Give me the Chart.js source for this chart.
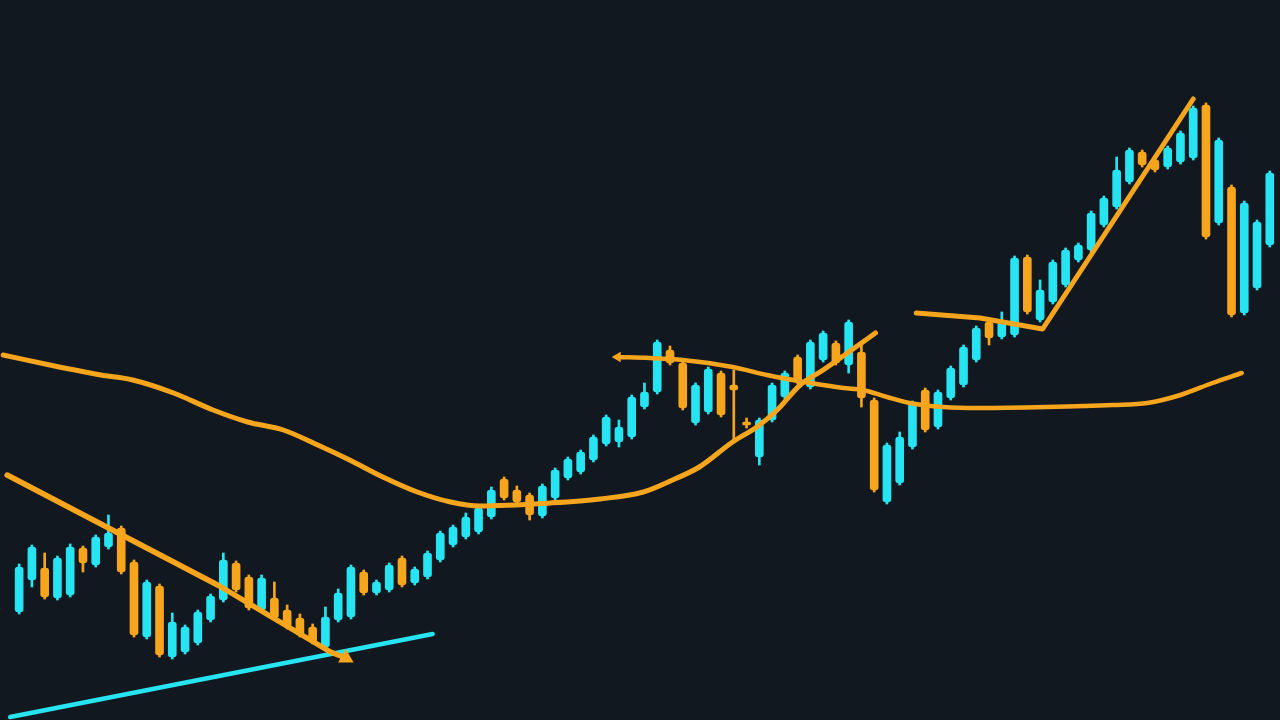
<!DOCTYPE html>
<html>
<head>
<meta charset="utf-8">
<script src="https://cdn.jsdelivr.net/npm/chart.js@4.4.1/dist/chart.umd.min.js"></script>
<style>
  html, body { margin: 0; padding: 0; background: #12181f; overflow: hidden; }
  #wrap { width: 1280px; height: 720px; position: relative; }
</style>
</head>
<body>
<div id="wrap"><canvas id="chart"></canvas></div>
<script>
// ── Candles (price units, one entry per bar) ──
const opens  = [10.8,14.0,15.2,12.2,12.5,17.2,15.5,17.3,19.2,15.8,8.3,13.4,6.3,6.8,7.7,10.0,12.0,15.7,14.3,11.0,
                12.2,11.0,10.2,9.3,7.3,10.0,10.3,14.8,12.7,13.0,16.2,13.7,14.3,16.0,17.5,18.3,18.8,20.3,24.1,23.0,
                22.5,20.4,22.2,24.2,24.8,26.0,27.6,27.8,28.3,31.3,32.8,37.0,35.7,29.7,30.8,34.7,33.5,29.8,26.3,30.0,
                32.3,36.3,33.3,36.0,37.7,35.5,36.8,32.0,21.8,23.7,27.3,33.0,29.3,32.2,33.5,36.0,39.8,38.3,38.5,46.3,
                40.0,41.8,43.5,46.0,47.0,49.5,51.3,53.8,56.8,56.0,55.3,55.8,56.2,61.5,49.7,53.3,40.7,43.2,47.5];
const closes = [15.3,17.3,12.3,16.2,17.3,15.7,18.3,18.7,14.8,8.5,13.8,6.5,9.8,9.3,10.8,12.4,16.0,13.0,11.2,14.2,
                10.2,9.3,8.5,7.8,10.3,12.7,15.3,12.7,13.8,15.5,13.5,15.1,16.7,18.7,19.3,20.3,21.2,23.0,22.2,21.8,
                20.5,23.4,25.0,26.1,26.8,28.3,30.3,29.3,32.3,32.8,37.8,35.7,31.2,33.5,35.1,30.5,33.0,29.5,30.0,33.5,
                34.7,33.8,37.8,38.7,35.7,39.8,32.2,23.0,27.5,28.3,31.7,29.0,32.8,35.2,37.3,39.2,38.2,39.8,46.2,40.8,
                43.0,45.8,47.0,47.5,50.7,52.2,55.0,57.0,55.5,55.0,57.2,58.7,61.2,48.3,58.0,40.5,51.7,49.8,54.7];
const highs  = [15.6,17.5,16.7,16.4,17.6,17.4,18.5,20.5,19.4,16.0,14.0,13.6,10.7,9.5,11.0,12.6,16.7,15.9,14.5,14.5,
                13.8,11.5,10.6,9.6,11.3,13.1,15.5,15.0,14.0,15.7,16.4,15.3,16.9,18.9,19.5,20.7,21.4,23.3,24.3,23.4,
                22.7,23.6,25.2,26.3,27.0,28.5,30.5,30.0,32.5,33.7,38.0,37.4,35.9,33.7,35.3,34.9,35.0,30.2,30.2,33.7,
                34.9,36.5,38.0,38.9,37.9,40.0,37.5,32.2,27.7,28.8,31.9,33.2,33.0,35.4,37.5,39.4,40.0,40.8,46.4,46.5,
                44.0,46.0,47.2,47.7,50.9,52.4,56.3,57.2,57.0,56.2,57.4,58.9,61.4,61.7,58.2,53.5,51.9,50.0,54.9];
const lows   = [10.6,13.3,12.1,12.0,12.3,14.8,15.3,17.1,14.6,8.3,8.1,6.3,6.1,6.6,7.5,9.8,11.8,12.8,11.0,10.8,
                10.0,9.1,8.3,7.6,7.1,9.8,10.1,12.5,12.5,12.8,13.3,13.5,14.1,15.8,17.3,18.1,18.6,20.1,22.0,21.6,
                20.0,20.2,22.0,24.0,24.6,25.8,27.4,27.3,28.1,31.1,32.6,35.5,31.0,29.5,30.6,30.3,28.0,29.2,25.5,29.8,
                32.1,33.6,33.1,35.8,35.5,34.7,31.3,22.8,21.6,23.5,27.1,28.8,29.1,32.0,33.3,35.8,37.5,38.1,38.3,40.6,
                39.8,41.6,43.3,45.8,46.8,49.3,51.1,53.6,55.3,54.8,55.1,55.6,56.0,48.1,49.5,40.3,40.5,43.0,47.3];

// ── Drawn overlays (x = bar index, y = price) ──
const maX    = [-1.25,2.4,6.4,8.9,12.1,15.2,17.9,20.7,23.4,25.9,28.5,31.2,33.8,36.1,41.6,45.5,48.9,51.2,53.3,55.9,57.8,59.4,61.2,63.0,64.9,67.1];
const maY    = [36.5,35.5,34.5,34.0,32.7,31.0,29.8,29.0,27.5,26.0,24.3,22.8,21.8,21.4,21.7,22.1,22.8,24.0,25.3,27.8,29.3,31.0,33.5,35.0,36.7,38.7];
const ma2X   = [46.9,49.4,52.0,55.9,58.6,62.0,64.6,66.1,68.0,69.8,72.4,75.3,80.5,85.7,88.4,91.0,93.5,95.8];
const ma2Y   = [36.3,36.2,36.0,35.3,34.5,33.7,33.2,33.0,32.3,31.7,31.3,31.2,31.3,31.5,31.7,32.5,33.7,34.7];
const downX  = [-0.94,15.7,24.4,25.6];
const downY  = [24.5,13.4,6.8,6.2];
const upX    = [-0.7,32.4];
const upY    = [0.3,8.6];
const legX   = [70.3,75.3,80.2,92.0];
const legY   = [40.7,40.2,39.1,62.1];

const CYAN = '#27e4f2';
const ORANGE = '#f7a51c';

const candleColors = opens.map((o, i) => closes[i] >= o ? CYAN : ORANGE);
const pts = (xs, ys) => xs.map((x, i) => ({ x: x, y: ys[i] }));

function lineSet(xs, ys, color, width, extra) {
  return Object.assign({
    type: 'line',
    data: pts(xs, ys),
    borderColor: color,
    backgroundColor: color,
    borderWidth: width,
    borderCapStyle: 'round',
    borderJoinStyle: 'round',
    pointRadius: 0,
    fill: false,
    clip: false,
    order: 0
  }, extra || {});
}

new Chart(document.getElementById('chart'), {
  type: 'bar',
  data: {
    datasets: [
      lineSet(maX, maY, ORANGE, 5, { cubicInterpolationMode: 'monotone' }),
      lineSet(ma2X, ma2Y, ORANGE, 4.5, {
        cubicInterpolationMode: 'monotone',
        pointRadius: ma2X.map((_, i) => i === 0 ? 6 : 0),
        pointStyle: 'triangle',
        pointRotation: -90,
        pointBorderWidth: 0
      }),
      lineSet(downX, downY, ORANGE, 5.5, {
        pointRadius: downX.map((_, i) => i === downX.length - 1 ? 9 : 0),
        pointStyle: 'triangle',
        pointRotation: 120,
        pointBorderWidth: 0
      }),
      lineSet(upX, upY, CYAN, 4.5),
      lineSet(legX, legY, ORANGE, 5),
      {
        label: 'body',
        data: opens.map((o, i) => ({ x: i, y: [o, closes[i]] })),
        backgroundColor: candleColors,
        barThickness: 8,
        borderRadius: 3,
        borderSkipped: false,
        grouped: false,
        order: 1
      },
      {
        label: 'wick',
        data: highs.map((h, i) => ({ x: i, y: [lows[i], h] })),
        backgroundColor: candleColors,
        barThickness: 2,
        grouped: false,
        order: 2
      }
    ]
  },
  options: {
    responsive: true,
    maintainAspectRatio: false,
    animation: false,
    layout: { padding: 0, autoPadding: false },
    scales: {
      x: { type: 'linear', min: -1.5, max: 98.8, offset: false, display: false },
      y: { type: 'linear', min: 0, max: 72, display: false }
    },
    plugins: {
      legend: { display: false },
      tooltip: { enabled: false }
    }
  }
});
</script>
</body>
</html>
